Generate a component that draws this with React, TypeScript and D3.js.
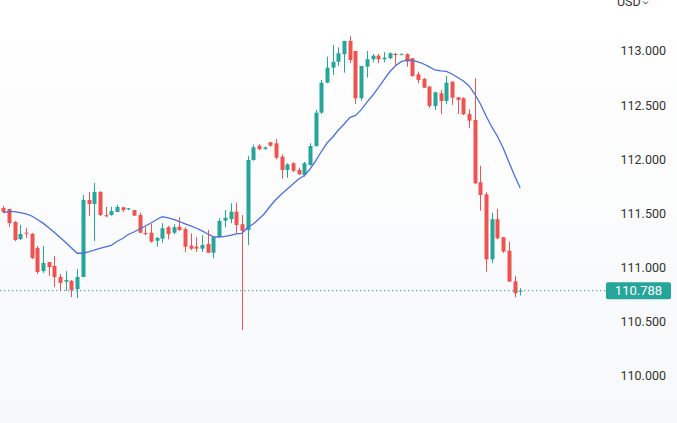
import React from "react";
import * as d3 from "d3";

const openP = [111.551,111.542,111.422,111.265,111.323,111.311,111.182,110.969,111.052,111.016,110.914,110.871,110.878,110.803,110.914,111.625,111.588,111.699,111.484,111.486,111.514,111.557,111.539,111.532,111.486,111.320,111.323,111.249,111.268,111.373,111.323,111.378,111.357,111.203,111.194,111.175,111.219,111.138,111.286,111.434,111.449,111.517,111.401,111.348,111.994,112.126,112.098,112.157,112.148,112.025,111.902,111.964,111.902,111.856,111.948,112.123,112.431,112.708,112.846,112.901,112.970,113.093,113.000,112.564,112.855,112.924,112.957,112.924,112.933,112.973,112.963,112.970,112.933,112.785,112.742,112.671,112.493,112.610,112.539,112.717,112.573,112.564,112.419,112.363,111.788,111.677,111.077,111.447,111.281,111.157,110.874,110.778];
const highP = [111.569,111.542,111.431,111.394,111.366,111.320,111.200,111.200,111.052,111.108,110.942,110.969,110.886,110.988,111.671,111.699,111.782,111.708,111.560,111.563,111.579,111.560,111.551,111.532,111.508,111.378,111.403,111.283,111.410,111.385,111.401,111.465,111.373,111.317,111.281,111.299,111.348,111.283,111.456,111.532,111.594,111.600,111.486,112.031,112.135,112.142,112.117,112.160,112.188,112.047,111.964,111.973,111.923,111.976,112.148,112.456,112.733,112.948,113.056,113.034,113.093,113.139,113.000,112.862,113.000,112.973,112.973,112.988,112.988,112.982,112.979,112.979,112.936,112.809,112.751,112.677,112.625,112.640,112.769,112.717,112.576,112.573,112.462,112.748,111.939,111.696,111.505,111.542,111.284,111.240,110.923,110.810];
const lowP = [111.505,111.376,111.246,111.256,111.274,111.080,110.942,110.951,110.923,110.822,110.785,110.785,110.729,110.720,110.914,111.477,111.246,111.477,111.468,111.480,111.514,111.514,111.530,111.477,111.317,111.299,111.231,111.194,111.231,111.262,111.308,111.339,111.145,111.163,111.145,111.145,111.138,111.087,111.281,111.373,111.410,111.311,110.425,111.209,111.988,112.086,112.086,112.117,112.000,111.821,111.831,111.883,111.856,111.840,111.941,112.117,112.419,112.702,112.779,112.862,112.800,112.889,112.511,112.541,112.754,112.896,112.887,112.896,112.924,112.871,112.963,112.855,112.763,112.702,112.659,112.477,112.456,112.416,112.508,112.502,112.419,112.409,112.287,111.773,111.526,110.963,111.041,111.262,111.136,110.871,110.727,110.743];
const closeP = [111.514,111.412,111.256,111.311,111.314,111.089,110.960,111.043,111.006,110.914,110.859,110.886,110.794,110.914,111.625,111.588,111.699,111.486,111.474,111.523,111.560,111.532,111.548,111.480,111.323,111.311,111.240,111.274,111.364,111.311,111.373,111.348,111.194,111.175,111.175,111.209,111.138,111.281,111.431,111.461,111.517,111.394,111.341,111.994,112.111,112.093,112.111,112.126,112.015,111.902,111.954,111.895,111.862,111.964,112.123,112.431,112.708,112.846,112.901,112.979,113.093,112.917,112.564,112.862,112.924,112.957,112.924,112.938,112.979,112.963,112.970,112.901,112.769,112.733,112.661,112.493,112.619,112.539,112.708,112.569,112.548,112.416,112.357,111.779,111.671,111.077,111.447,111.271,111.148,110.871,110.764,110.788];
const maP = [111.509,111.517,111.517,111.509,111.496,111.477,111.445,111.411,111.368,111.325,111.279,111.233,111.182,111.133,111.133,111.145,111.163,111.177,111.191,111.205,111.242,111.269,111.306,111.329,111.357,111.385,111.412,111.445,111.471,111.459,111.445,111.426,111.405,111.385,111.364,111.339,111.311,111.285,111.283,111.288,111.299,111.311,111.317,111.371,111.403,111.449,111.500,111.569,111.629,111.680,111.726,111.773,111.819,111.851,111.911,111.985,112.072,112.151,112.206,112.271,112.326,112.386,112.405,112.456,112.525,112.589,112.659,112.733,112.806,112.862,112.899,112.917,112.913,112.899,112.880,112.853,112.825,112.816,112.811,112.788,112.756,112.723,112.677,112.603,112.511,112.400,112.299,112.211,112.105,111.976,111.851,111.736];
const yTicks = [110.0, 110.5, 111.0, 111.5, 112.0, 112.5, 113.0];
const lastPrice = 110.788;
const currency = "USD";

const W = 677;
const H = 423;
const UP = "#26a69a";
const DOWN = "#ef5350";

export default function App() {
  const x = d3.scaleLinear().domain([0, closeP.length - 1]).range([3.3, 520.2]);
  const y = d3.scaleLinear().domain([110, 113]).range([376, 51]);
  const fmt = d3.format(".3f");
  const line = d3
    .line<number>()
    .x((_, i) => x(i))
    .y((d) => y(d));
  const bodyW = 4;
  const yLast = y(lastPrice);

  return (
    <svg
      width={W}
      height={H}
      style={{ position: "absolute", left: 0, top: 0, display: "block", background: "#fff" }}
      fontFamily="Roboto, 'Noto Sans', sans-serif"
    >
      <defs>
        <linearGradient id="bg" x1="0" y1="0" x2="0" y2="1">
          <stop offset="0" stopColor="#ffffff" />
          <stop offset="1" stopColor="#f7f8fa" />
        </linearGradient>
      </defs>
      <rect x={0} y={0} width={W} height={H} fill="url(#bg)" />
      {closeP.map((c, i) => {
        const o = openP[i];
        const up = c >= o;
        const col = up ? UP : DOWN;
        const top = y(Math.max(o, c));
        const bot = y(Math.min(o, c));
        const cx = Math.round(x(i)) + 0.5;
        return (
          <g key={i}>
            <line x1={cx} x2={cx} y1={y(highP[i])} y2={y(lowP[i])} stroke={col} strokeWidth={1} />
            <rect x={cx - bodyW / 2} y={top} width={bodyW} height={Math.max(1, bot - top)} fill={col} />
          </g>
        );
      })}
      <path d={line(maP) || ""} fill="none" stroke="#4a6fe3" strokeWidth={1.3} />
      <line x1={0} x2={606} y1={yLast} y2={yLast} stroke={UP} strokeWidth={1} strokeDasharray="1.3,2.7" />
      {yTicks.map((t) => (
        <text key={t} x={666} y={y(t)} dy="0.35em" textAnchor="end" fontSize={12.5} fill="#333">
          {fmt(t)}
        </text>
      ))}
      <rect x={606} y={yLast - 8.5} width={65} height={17} rx={2} fill={UP} />
      <text x={638.5} y={yLast} dy="0.36em" textAnchor="middle" fontSize={13} fill="#fff">
        {fmt(lastPrice)}
      </text>
      <text x={617} y={6} fontSize={12.5} fill="#333">
        {currency}
      </text>
      <path d="M643,1.5 L645.5,4 L648,1.5" fill="none" stroke="#333" strokeWidth={1} />
    </svg>
  );
}
